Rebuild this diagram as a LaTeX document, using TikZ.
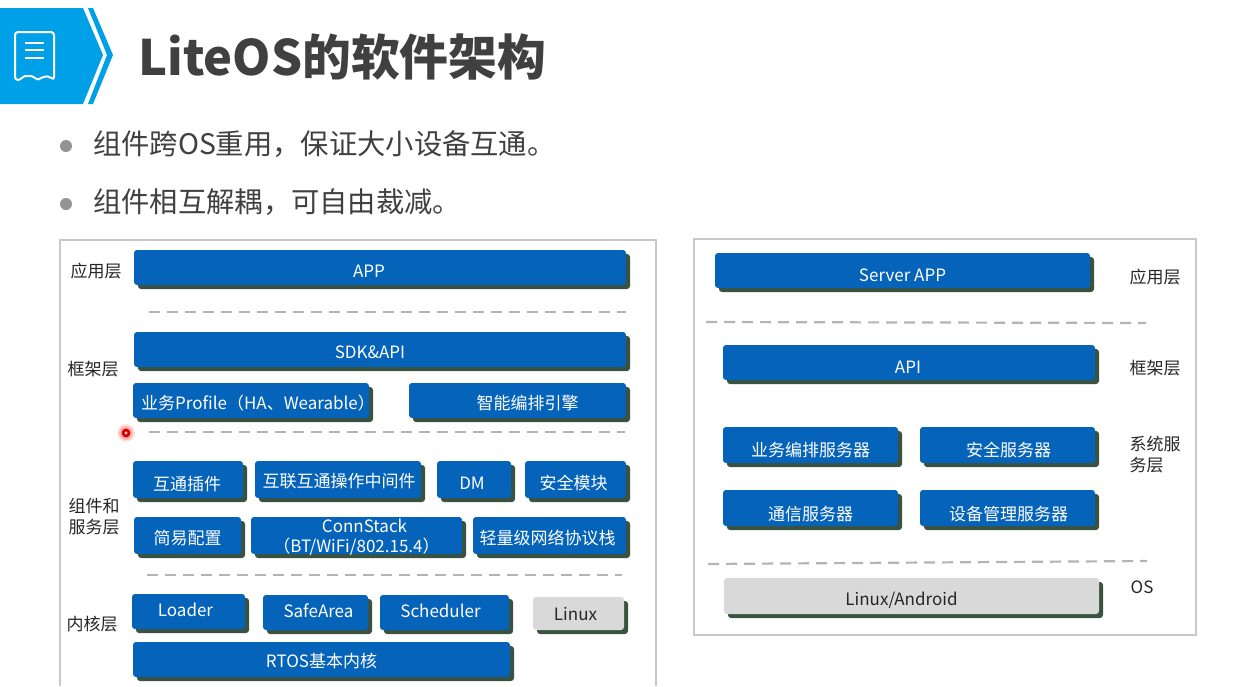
\documentclass[tikz,border=0pt]{standalone}
\usepackage{fontspec}
\setmainfont{Noto Sans CJK SC}
\usetikzlibrary{shadows}
\definecolor{hdr}{HTML}{00A0E9}
\definecolor{boxblue}{HTML}{0563BA}
\definecolor{shade}{HTML}{3A5240}
\definecolor{graybox}{HTML}{D9D9D9}
\definecolor{dashc}{HTML}{B4B4B4}
\definecolor{frame}{HTML}{C8C8C8}
\definecolor{ink}{HTML}{262626}
\definecolor{titlec}{HTML}{404040}
\tikzset{
  base box/.style={rounded corners=3pt,inner sep=0pt,font=\fontsize{17}{19}\selectfont,
    drop shadow={shadow xshift=4pt,shadow yshift=-4pt,fill=shade,opacity=1}},
  bluebox/.style={base box,fill=boxblue,text=white},
  greybox/.style={base box,fill=graybox,text=ink},
  layerlabel/.style={font=\fontsize{17}{21}\selectfont,text=ink,align=left,inner sep=0pt},
  layerline/.style={dashc,line width=2.2pt,dash pattern=on 11pt off 7pt},
  panel/.style={draw=frame,line width=1.2pt},
  bullettext/.style={font=\fontsize{28.3}{31}\selectfont,text=titlec,anchor=west,inner sep=0pt},
  bulletdot/.style={circle,fill=gray!85,minimum size=12pt,inner sep=0pt},
}
% \bx[style]{name}{x1}{y1}{x2}{y2}{text}
\newcommand{\bx}[7][bluebox]{%
  \pgfmathsetmacro{\bxw}{#5-#3}\pgfmathsetmacro{\bxh}{#6-#4}%
  \pgfmathsetmacro{\bxx}{(#5+#3)/2}\pgfmathsetmacro{\bxy}{(#6+#4)/2}%
  \node[#1,minimum width=\bxw pt,minimum height=\bxh pt] (#2) at (\bxx,\bxy) {#7};}
% text placed dx right of and dy below the centre of its box
\newcommand{\tsh}[3]{\makebox[0pt][c]{\hspace{\dimexpr 2pt*\numexpr#1\relax\relax}\raisebox{\dimexpr -6pt - #2pt\relax}[0pt][0pt]{#3}}}
\begin{document}
\begin{tikzpicture}[x=1pt,y=-1pt]
\useasboundingbox (0,0) rectangle (1248,686);
\fill[white] (0,0) rectangle (1248,686);
% header
\fill[hdr] (0,8) -- (83,8) -- (103,55) -- (83,104) -- (0,104) -- cycle;
\fill[hdr] (88,8) -- (93,8) -- (113,55) -- (93,104) -- (88,104) -- (107,55) -- cycle;
\draw[white,line width=2pt,rounded corners=3pt] (15,32) -- (54,32) -- (54,80) .. controls (49,76) and (46,76) .. (41,78) .. controls (37,80) and (33,76) .. (28,76) .. controls (24,76) and (20,80) .. (15,80) -- cycle;
\draw[white,line width=2pt] (25,43) -- (44,43) (25,50) -- (44,50) (25,58) -- (44,58);
\node[font=\fontsize{48.8}{54}\bfseries\selectfont,text=titlec,anchor=west,inner sep=0pt] (title) at (138,57) {LiteOS的软件架构};
% bullets
\node[bulletdot] (b1) at (66,146) {};
\node[bulletdot] (b2) at (66,204) {};
\node[bullettext] (t1) at (93,144) {组件跨OS重用，保证大小设备互通。};
\node[bullettext] (t2) at (93,202) {组件相互解耦，可自由裁减。};
% panels
\draw[panel] (60,686) -- (60,240) -- (656,240) -- (656,686);
\draw[panel] (694,239) rectangle (1196,635);
% layer lines
\coordinate (l1a) at (149,312); \coordinate (l1b) at (626,312);
\coordinate (l2a) at (149,432); \coordinate (l2b) at (625,432);
\coordinate (l3a) at (147,575); \coordinate (l3b) at (622,575);
\coordinate (r1a) at (706,322); \coordinate (r1b) at (1146,323);
\coordinate (r2a) at (708,564); \coordinate (r2b) at (1147,561);
\draw[layerline] (l1a) -- (l1b);
\draw[layerline] (l2a) -- (l2b);
\draw[layerline] (l3a) -- (l3b);
\draw[layerline] (r1a) -- (r1b);
\draw[layerline] (r2a) -- (r2b);
% left boxes
\bx{app}{134}{250}{626}{285}{\tsh{-11}{3.5}{APP}}
\bx{sdk}{134}{332}{626}{367}{\tsh{-10}{2.5}{SDK\&API}}
\bx{prof}{133}{383}{369}{418}{\tsh{7}{2.5}{业务Profile（HA、Wearable）}}
\bx{zn}{409}{383}{626}{418}{\tsh{10}{2.5}{智能编排引擎}}
\bx{ht}{133}{461}{243}{498}{\tsh{-1}{4.5}{互通插件}}
\bx{hl}{255}{461}{421}{498}{\tsh{1}{1.5}{互联互通操作中间件}}
\bx{dm}{437}{461}{511}{498}{\tsh{-2}{3.5}{DM}}
\bx{aq}{525}{461}{626}{498}{\tsh{-2}{3.5}{安全模块}}
\bx{jy}{134}{517}{241}{554}{\tsh{0}{2.5}{简易配置}}
\bx{cs}{251}{517}{462}{554}{\tsh{8}{-9.5}{ConnStack}\tsh{0}{10.5}{（BT/WiFi/802.15.4）}}
\bx{qw}{473}{517}{626}{554}{\tsh{-2}{2.5}{轻量级网络协议栈}}
\bx{ld}{132}{594}{245}{629}{\tsh{-3}{-1.5}{Loader}}
\bx{sa}{263}{595}{368}{630}{\tsh{3}{-1.5}{SafeArea}}
\bx{sc}{380}{595}{509}{630}{\tsh{-4}{-1.5}{Scheduler}}
\bx[greybox]{lx}{533}{597}{624}{630}{\tsh{-3}{0.5}{Linux}}
\bx{rt}{133}{642}{510}{677}{\tsh{0}{1.5}{RTOS基本内核}}
% right boxes
\bx{sv}{715}{253}{1090}{288}{\tsh{0}{4.5}{Server APP}}
\bx{api}{723}{345}{1095}{380}{\tsh{-1}{4.5}{API}}
\bx{yw}{723}{427}{898}{463}{\tsh{0}{5}{业务编排服务器}}
\bx{aqs}{920}{427}{1095}{463}{\tsh{1}{5}{安全服务器}}
\bx{tx}{723}{490}{898}{526}{\tsh{0}{6}{通信服务器}}
\bx{sb}{920}{490}{1095}{526}{\tsh{1}{6}{设备管理服务器}}
\bx[greybox]{la}{724}{578}{1099}{614}{\tsh{-10}{3}{Linux/Android}}
% layer labels
\node[layerlabel] (n1) at (96,271) {应用层};
\node[layerlabel] (n2) at (93,369) {框架层};
\node[layerlabel] (n3) at (94,517) {组件和\\服务层};
\node[layerlabel] (n4) at (92,624) {内核层};
\node[layerlabel] (n5) at (1155,277) {应用层};
\node[layerlabel] (n6) at (1155,368) {框架层};
\node[layerlabel] (n7) at (1155,455) {系统服\\务层};
\node[layerlabel] (n8) at (1142,587) {OS};
% pointer
\fill[red,opacity=.12] (126,433) circle (9);
\fill[red,opacity=.2] (126,433) circle (7);
\fill[red!85!black] (126,433) circle (4.5);
\fill[white!80!red] (126,433) circle (1.6);
\end{tikzpicture}
\end{document}
